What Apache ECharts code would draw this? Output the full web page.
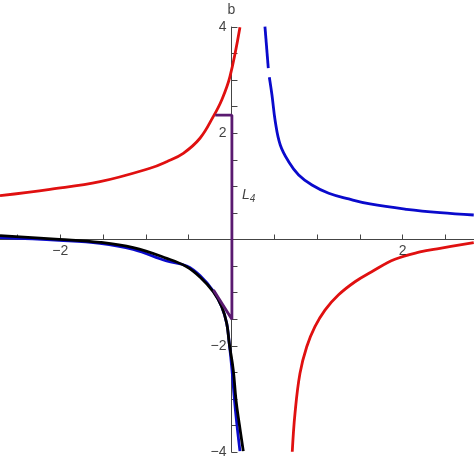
<!DOCTYPE html>
<html>
<head>
<meta charset="utf-8">
<script src="https://cdn.jsdelivr.net/npm/echarts@6/dist/echarts.min.js"></script>
<style>
html,body{margin:0;padding:0;background:#fff;}
#c{width:474px;height:474px;}
</style>
</head>
<body>
<div id="c"></div>
<script>
// Data
var redUpper = [[-2.704,0.825],[-2.12,0.945],[-1.536,1.089],[-0.952,1.341],[-0.757,1.465],[-0.563,1.623],[-0.368,1.906],[-0.213,2.313],[-0.114,2.627],[-0.018,3.066],[0.099,3.996]];
var redLower = [[0.71,-3.996],[0.742,-3.273],[0.8,-2.52],[0.879,-2.019],[0.975,-1.642],[1.092,-1.328],[1.248,-1.045],[1.443,-0.795],[1.638,-0.606],[1.91,-0.373],[2.202,-0.235],[2.436,-0.166],[2.83,-0.06]];
var blueUpperA = [[0.391,4.008],[0.43,3.224]];
var blueUpperB = [[0.442,3.055],[0.473,2.721],[0.512,2.218],[0.57,1.78],[0.668,1.465],[0.785,1.215],[0.94,1.026],[1.136,0.87],[1.369,0.763],[1.618,0.669],[2.047,0.569],[2.436,0.505],[2.83,0.461]];
var blueLower = [[-2.704,0.034],[-2.012,-0.015],[-1.536,-0.072],[-1.147,-0.188],[-0.757,-0.405],[-0.523,-0.499],[-0.368,-0.678],[-0.213,-0.97],[-0.114,-1.266],[-0.056,-1.578],[-0.026,-1.955],[0.006,-2.458],[0.035,-3.023],[0.064,-3.493],[0.099,-3.983]];
var blackLower = [[-2.704,0.072],[-2.012,0.004],[-1.536,-0.053],[-1.147,-0.154],[-0.757,-0.354],[-0.523,-0.512],[-0.368,-0.706],[-0.213,-0.983],[-0.114,-1.266],[-0.056,-1.578],[-0.026,-1.955],[0.021,-2.458],[0.053,-3.023],[0.093,-3.493],[0.138,-3.983]];
var purpleL4 = [[-0.21,-0.95],[0.005,-1.5],[0.005,2.34],[-0.19,2.34]];
var labelL4 = [[0.2,0.84]];
var xTicks = [-2.5,-2,-1.5,-1,-0.5,0.5,1,1.5,2,2.5];
var xTickLabels = [-2, 2];
var yTicks = [-4,-3.5,-3,-2.5,-2,-1.5,-1,-0.5,0.5,1,1.5,2,2.5,3,3.5,4];
var yTickLabels = [-4, -2, 2, 4];

function fmt(v){ return String(v).replace('-', '\u2212'); }
var font = 'Liberation Sans, Arial, sans-serif';

var chart = echarts.init(document.getElementById('c'));
var lineBase = {type:'line', showSymbol:false, symbol:'none', clip:true, z:2};
function curve(data, color, smooth, z){
  return Object.assign({}, lineBase, {data:data, smooth:smooth, z:z||2, lineStyle:{color:color, width:2.8}});
}
chart.setOption({
  backgroundColor:'#fff',
  animation:false,
  grid:{left:0, right:0, top:27, bottom:22, containLabel:false, outerBoundsMode:'none'},
  xAxis:{
    type:'value', min:-2.704, max:2.833,
    axisLine:{onZero:true, lineStyle:{color:'#444', width:1}},
    axisTick:{inside:true, length:5, customValues:xTicks, lineStyle:{color:'#444'}},
    axisLabel:{show:false},
    splitLine:{show:false}
  },
  yAxis:{
    type:'value', min:-4, max:4,
    axisLine:{onZero:true, lineStyle:{color:'#444', width:1}},
    axisTick:{inside:true, length:6, customValues:yTicks, lineStyle:{color:'#444'}},
    axisLabel:{show:false},
    splitLine:{show:false}
  },
  series:[
    curve(redUpper, '#e01010', 0.4),
    curve(redLower, '#e01010', 0.4),
    curve(blueUpperA, '#0a0acc', false),
    curve(blueUpperB, '#0a0acc', 0.4),
    curve(blueLower, '#0a0acc', 0.4, 3),
    curve(blackLower, '#000000', 0.4, 4),
    Object.assign({}, lineBase, {data:purpleL4, smooth:false, z:5, lineStyle:{color:'#5a1a70', width:2.8}}),
    {type:'scatter', data:labelL4, symbolSize:0, z:6,
     label:{show:true, position:'inside', formatter:'{a|L}{s|4}',
       rich:{a:{fontStyle:'italic', fontSize:14, color:'#111', fontFamily:font},
             s:{fontStyle:'italic', fontSize:10, color:'#111', fontFamily:font, padding:[8,0,0,0]}}}},
    {type:'scatter', data:xTickLabels.map(function(v){return [v,0];}), symbolSize:0, z:6, clip:false,
     label:{show:true, position:'bottom', distance:5, formatter:function(p){return fmt(p.value[0]);}, color:'#111', fontSize:14, fontFamily:font}},
    {type:'scatter', data:yTickLabels.map(function(v){return [0,v];}), symbolSize:0, z:6, clip:false,
     label:{show:true, position:'left', distance:5, formatter:function(p){return fmt(p.value[1]);}, color:'#111', fontSize:14, fontFamily:font}},
    {type:'scatter', data:[[0,4]], symbolSize:0, z:6, clip:false,
     label:{show:true, position:'top', distance:10, formatter:'b', color:'#111', fontSize:14, fontFamily:font}}
  ]
});
</script>
</body>
</html>
